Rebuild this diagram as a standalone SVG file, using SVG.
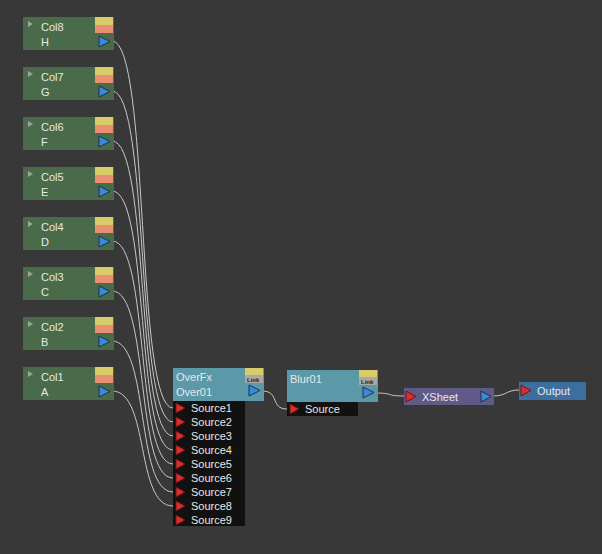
<svg xmlns="http://www.w3.org/2000/svg" width="602" height="554" viewBox="0 0 602 554">
<defs><style>
text{font-family:"Liberation Sans",Arial,sans-serif;font-size:11px;fill:#e8e8e8}
.col{fill:#4a6b4a}.vis{fill:#d8cc6a}.cam{fill:#e89070}
.out{fill:#3a8ad8;stroke:#1a3050;stroke-width:1}
.in{fill:#d83030;stroke:#701010;stroke-width:1}
.w{fill:none;stroke:#c8c8c8;stroke-width:1}
.tri{fill:#a0a0a0}
</style></defs>
<rect width="602" height="554" fill="#383838"/>
<g id="connectors">
<path class="w" d="M112 41 C150 41,135 408,173 408"/>
<path class="w" d="M112 91 C150 91,135 422,173 422"/>
<path class="w" d="M112 141 C150 141,135 436,173 436"/>
<path class="w" d="M112 191 C150 191,135 450,173 450"/>
<path class="w" d="M112 241 C150 241,135 464,173 464"/>
<path class="w" d="M112 291 C150 291,135 478,173 478"/>
<path class="w" d="M112 341 C150 341,135 492,173 492"/>
<path class="w" d="M112 391 C150 391,135 506,173 506"/>
<path class="w" d="M262 391 C280 391,270 409,287 409"/>
<path class="w" d="M375 393 C395 393,385 396,404 396"/>
<path class="w" d="M492 396 C508 396,505 390,519 390"/>
</g>
<g id="col8"><rect class="col" x="23" y="17" width="91" height="33"/><rect class="vis" x="95" y="17" width="18" height="8"/><rect class="cam" x="95" y="25" width="18" height="8"/><path class="tri" d="M28 21v6l5-3z"/><text x="41" y="31">Col8</text><text x="41" y="46">H</text><path class="out" d="M99 36v11l11-5.5z"/></g>
<g id="col7"><rect class="col" x="23" y="67" width="91" height="33"/><rect class="vis" x="95" y="67" width="18" height="8"/><rect class="cam" x="95" y="75" width="18" height="8"/><path class="tri" d="M28 71v6l5-3z"/><text x="41" y="81">Col7</text><text x="41" y="96">G</text><path class="out" d="M99 86v11l11-5.5z"/></g>
<g id="col6"><rect class="col" x="23" y="117" width="91" height="33"/><rect class="vis" x="95" y="117" width="18" height="8"/><rect class="cam" x="95" y="125" width="18" height="8"/><path class="tri" d="M28 121v6l5-3z"/><text x="41" y="131">Col6</text><text x="41" y="146">F</text><path class="out" d="M99 136v11l11-5.5z"/></g>
<g id="col5"><rect class="col" x="23" y="167" width="91" height="33"/><rect class="vis" x="95" y="167" width="18" height="8"/><rect class="cam" x="95" y="175" width="18" height="8"/><path class="tri" d="M28 171v6l5-3z"/><text x="41" y="181">Col5</text><text x="41" y="196">E</text><path class="out" d="M99 186v11l11-5.5z"/></g>
<g id="col4"><rect class="col" x="23" y="217" width="91" height="33"/><rect class="vis" x="95" y="217" width="18" height="8"/><rect class="cam" x="95" y="225" width="18" height="8"/><path class="tri" d="M28 221v6l5-3z"/><text x="41" y="231">Col4</text><text x="41" y="246">D</text><path class="out" d="M99 236v11l11-5.5z"/></g>
<g id="col3"><rect class="col" x="23" y="267" width="91" height="33"/><rect class="vis" x="95" y="267" width="18" height="8"/><rect class="cam" x="95" y="275" width="18" height="8"/><path class="tri" d="M28 271v6l5-3z"/><text x="41" y="281">Col3</text><text x="41" y="296">C</text><path class="out" d="M99 286v11l11-5.5z"/></g>
<g id="col2"><rect class="col" x="23" y="317" width="91" height="33"/><rect class="vis" x="95" y="317" width="18" height="8"/><rect class="cam" x="95" y="325" width="18" height="8"/><path class="tri" d="M28 321v6l5-3z"/><text x="41" y="331">Col2</text><text x="41" y="346">B</text><path class="out" d="M99 336v11l11-5.5z"/></g>
<g id="col1"><rect class="col" x="23" y="367" width="91" height="33"/><rect class="vis" x="95" y="367" width="18" height="8"/><rect class="cam" x="95" y="375" width="18" height="8"/><path class="tri" d="M28 371v6l5-3z"/><text x="41" y="381">Col1</text><text x="41" y="396">A</text><path class="out" d="M99 386v11l11-5.5z"/></g>
<g id="over01">
<rect x="173" y="368" width="91" height="33" fill="#5b98a8"/>
<rect class="vis" x="245" y="368" width="18" height="7"/><rect x="245" y="375" width="18" height="8" fill="#a8a8a8"/>
<text x="247" y="382" style="font-size:6px;fill:#202020;font-weight:bold">Link</text>
<text x="176" y="381">OverFx</text><text x="176" y="396">Over01</text>
<path class="out" d="M249 385v11l11-5.5z"/>
<rect x="173" y="401" width="72" height="125" fill="#111"/>
<g class="in-rows">
<path class="in" d="M176 403v10l9-5z"/><text x="191" y="412">Source1</text>
<path class="in" d="M176 417v10l9-5z"/><text x="191" y="426">Source2</text>
<path class="in" d="M176 431v10l9-5z"/><text x="191" y="440">Source3</text>
<path class="in" d="M176 445v10l9-5z"/><text x="191" y="454">Source4</text>
<path class="in" d="M176 459v10l9-5z"/><text x="191" y="468">Source5</text>
<path class="in" d="M176 473v10l9-5z"/><text x="191" y="482">Source6</text>
<path class="in" d="M176 487v10l9-5z"/><text x="191" y="496">Source7</text>
<path class="in" d="M176 501v10l9-5z"/><text x="191" y="510">Source8</text>
<path class="in" d="M176 515v10l9-5z"/><text x="191" y="524">Source9</text>
</g></g>
<g id="blur01">
<rect x="287" y="370" width="91" height="32" fill="#5b98a8"/>
<rect class="vis" x="359" y="370" width="18" height="7"/><rect x="359" y="377" width="18" height="8" fill="#a8a8a8"/>
<text x="361" y="384" style="font-size:6px;fill:#202020;font-weight:bold">Link</text>
<text x="290" y="383">Blur01</text>
<path class="out" d="M363 387v11l11-5.5z"/>
<rect x="287" y="402" width="71" height="14" fill="#111"/>
<path class="in" d="M290 404v10l9-5z"/><text x="305" y="413">Source</text>
</g>
<g id="xsheet"><rect x="404" y="388" width="90" height="17" fill="#5f5a88"/><path class="in" d="M406 391v11l10-5.5z"/><text x="422" y="401">XSheet</text><path class="out" d="M481 391v11l10-5.5z"/></g>
<g id="output"><rect x="519" y="382" width="67" height="18" fill="#3d6ea0"/><path class="in" d="M521 385v11l10-5.5z"/><text x="537" y="395">Output</text></g>
</svg>
